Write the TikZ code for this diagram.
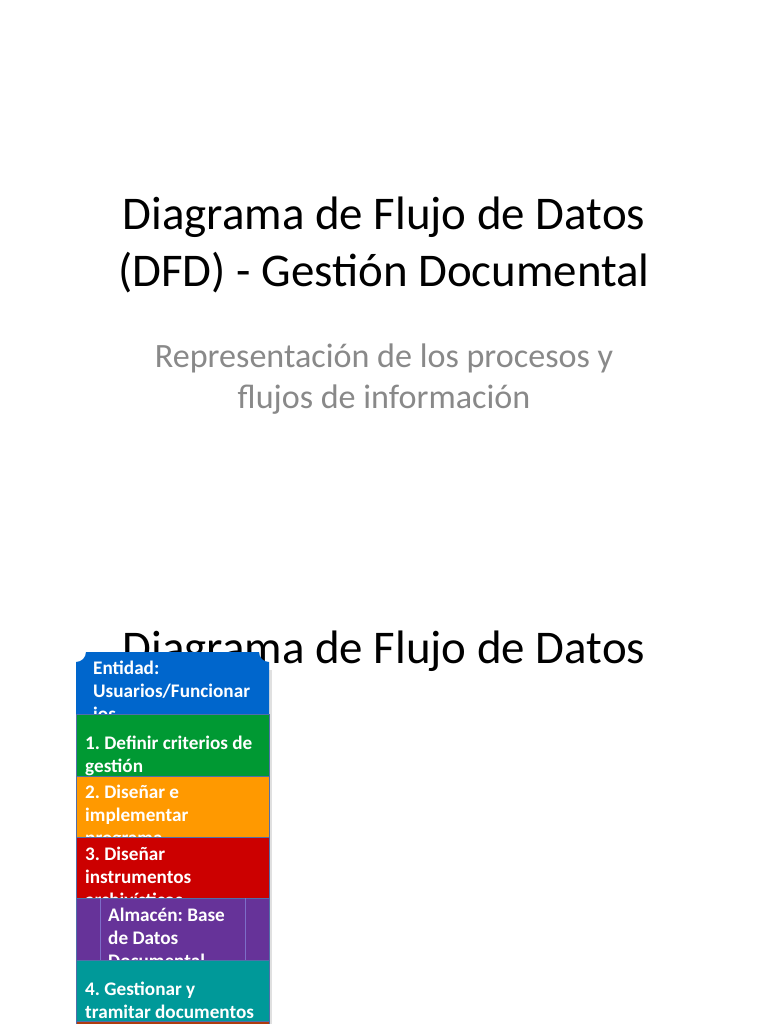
\documentclass[tikz,border=0pt]{standalone}
\usepackage{fontspec}
\setmainfont{Carlito}
\frenchspacing
\definecolor{cblue}{RGB}{0,102,204}
\definecolor{cgreen}{RGB}{0,153,51}
\definecolor{corange}{RGB}{255,153,0}
\definecolor{cred}{RGB}{204,0,0}
\definecolor{cpurple}{RGB}{102,51,153}
\definecolor{cteal}{RGB}{0,153,153}
\definecolor{cbrown}{RGB}{176,60,14}
\definecolor{cedge}{RGB}{80,110,170}
\definecolor{csub}{RGB}{137,137,137}
\definecolor{cline}{RGB}{125,110,200}
\tikzset{
  boxshape/.style={draw=cedge, line width=0.8pt},
  shadowbox/.style={fill=black!12},
  boxtext/.style={anchor=north west, inner sep=0pt, align=left, text=white,
    font=\bfseries\fontsize{19.2}{23.4}\selectfont},
  titletext/.style={inner sep=0pt, align=center, text=black,
    font=\fontsize{46.9}{57.2}\selectfont},
  subtext/.style={inner sep=0pt, align=center, text=csub,
    font=\fontsize{34.1}{41.6}\selectfont}
}
\begin{document}
\begin{tikzpicture}[x=1pt,y=-1pt]
\useasboundingbox (0,0) rectangle (768,1024);
\fill[white] (0,0) rectangle (768,1024);
% slide 1
\node[titletext, anchor=north] (title) at (384,189) {\strut Diagrama de Flujo de Datos\\(DFD) - Gestión Documental};
\node[subtext, anchor=north] (sub) at (384,337.9) {\strut Representación de los procesos y\\flujos de información};
% slide 2
\node[titletext, anchor=base] (title2) at (384,663) {Diagrama de Flujo de Datos};
% entity (plaque shape)
\fill[shadowbox] (80,670) rectangle (271.5,733);
\fill[cblue] (76,662) .. controls (81.5,662) and (86,657.5) .. (86,652) -- (259,652) .. controls (259,657.5) and (263.5,662) .. (269,662) -- (269,730) -- (76,730) -- cycle;
\node[boxtext] (t0) at (93,657.6) {\strut Entidad:\\Usuarios/Funcionar\\ios};
% process 1
\fill[shadowbox] (80,717) rectangle (271.5,795);
\path[boxshape, fill=cgreen] (76,714) rectangle (269,792);
\node[boxtext] (t1) at (85,732.6) {\strut 1. Definir criterios de\\gestión};
% process 2
\fill[shadowbox] (80,779) rectangle (271.5,857);
\path[boxshape, fill=corange] (76,776) rectangle (269,854);
\node[boxtext] (t2) at (85,781.6) {\strut 2. Diseñar e\\implementar\\programa};
% process 3
\fill[shadowbox] (80,840) rectangle (271.5,918);
\path[boxshape, fill=cred] (76,837) rectangle (269,915);
\node[boxtext] (t3) at (85,843.6) {\strut 3. Diseñar\\instrumentos\\archivísticos};
% data store
\fill[shadowbox] (80,901) rectangle (271.5,979);
\path[boxshape, fill=cpurple] (76,898) rectangle (269,976);
\draw[cline, line width=0.8pt] (100,898) -- (100,976);
\draw[cline, line width=0.8pt] (245,898) -- (245,976);
\node[boxtext] (t4) at (108,904.6) {\strut Almacén: Base\\de Datos\\Documental};
% process 4
\fill[shadowbox] (80,963) rectangle (271.5,1041);
\path[boxshape, fill=cteal] (76,960) rectangle (269,1038);
\node[boxtext] (t5) at (85,978.6) {\strut 4. Gestionar y\\tramitar documentos};
% next box (cut off)
\path[boxshape, fill=cbrown] (76,1021) rectangle (269,1099);
\end{tikzpicture}
\end{document}
